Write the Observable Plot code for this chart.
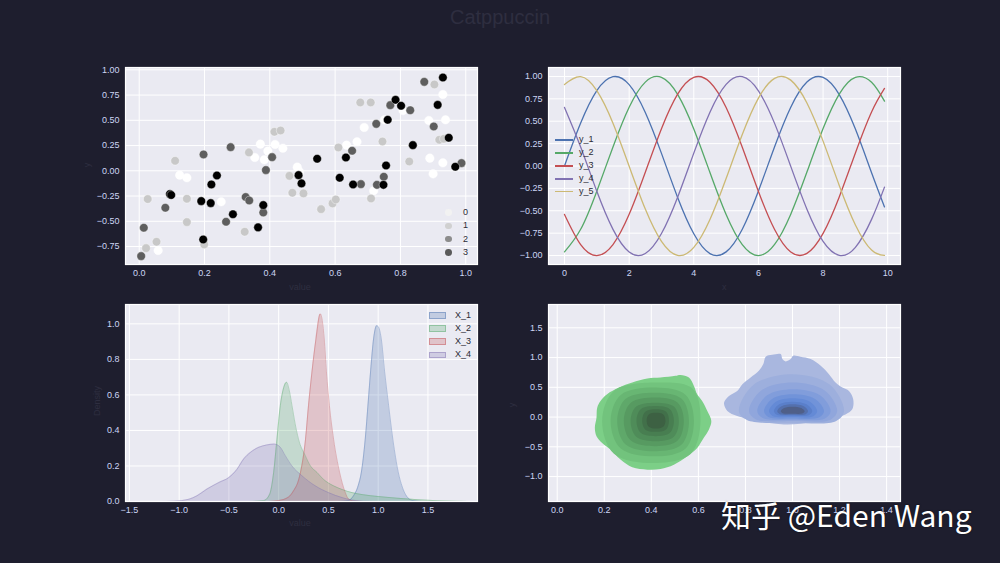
<!DOCTYPE html>
<html><head><meta charset="utf-8">
<script src="https://cdn.jsdelivr.net/npm/d3@7"></script>
<script src="https://cdn.jsdelivr.net/npm/@observablehq/plot@0.6"></script>
<style>
html,body{margin:0;padding:0;background:#1e1e2e;}
#root{position:relative;width:1000px;height:563px;overflow:hidden;background:#1e1e2e;font-family:"Liberation Sans",Arial,sans-serif;}
</style></head><body><div id="root"></div>
<script>
// ---------- DATA ----------
// Scatter (top-left): groups 0..3
const scatterGroups = ["0", "1", "2", "3"];
const scatterColors = ["#ffffff", "#c8c8c8", "#5e5e5e", "#000000"];
const scatterLegendColors = ["#f2f2f2", "#d0d0d0", "#8c8c8c", "#5a5a5a"];
const scatterG0 = [[0.058,-0.789],[0.124,-0.043],[0.146,-0.069],[0.251,-0.307],[0.371,0.264],[0.354,0.132],[0.383,0.109],[0.394,0.195],[0.416,0.261],[0.44,0.224],[0.484,0.036],[0.491,-0.01],[0.635,0.254],[0.667,0.287],[0.689,0.429],[0.718,-0.198],[0.751,0.505],[0.808,0.597],[0.887,0.498],[0.89,0.125],[0.9,-0.03],[0.93,0.079],[0.93,0.756],[0.938,0.505]];
const scatterG1 = [[0.021,-0.766],[0.026,-0.28],[0.053,-0.703],[0.11,0.099],[0.146,-0.277],[0.146,-0.508],[0.199,-0.729],[0.323,-0.604],[0.336,0.182],[0.414,0.386],[0.433,0.399],[0.46,-0.05],[0.469,-0.218],[0.503,-0.224],[0.557,-0.38],[0.592,-0.323],[0.602,-0.284],[0.61,0.231],[0.677,0.677],[0.709,0.677],[0.71,-0.274],[0.745,0.29],[0.827,0.092],[0.904,0.855],[0.919,0.307],[0.933,0.317]];
const scatterG2 = [[0.006,-0.845],[0.014,-0.564],[0.08,-0.366],[0.197,0.162],[0.266,-0.505],[0.28,0.234],[0.326,-0.26],[0.337,-0.294],[0.38,-0.413],[0.388,0.007],[0.407,0.135],[0.652,0.198],[0.679,-0.132],[0.726,0.465],[0.728,-0.139],[0.749,-0.059],[0.769,0.65],[0.83,0.60],[0.873,0.881],[0.902,0.439],[0.987,0.076]];
const scatterG3 = [[0.094,-0.231],[0.098,-0.24],[0.19,-0.30],[0.196,-0.68],[0.219,-0.32],[0.221,-0.135],[0.238,-0.046],[0.287,-0.43],[0.364,-0.56],[0.38,-0.34],[0.488,-0.043],[0.497,-0.125],[0.545,0.119],[0.614,-0.069],[0.633,0.132],[0.655,-0.135],[0.748,-0.139],[0.756,0.053],[0.785,0.703],[0.802,0.644],[0.838,0.254],[0.914,0.653],[0.93,0.924],[0.948,0.327],[0.968,0.04],[0.761,0.505]];

// Lines (top-right)
const lineNames = ["y_1", "y_2", "y_3", "y_4", "y_5"];
const lineColors = ["#4c72b0", "#55a868", "#c44e52", "#8172b2", "#ccb974"];
const lineX = [0,0.5,1,1.5,2,2.5,3,3.5,4,4.5,5,5.5,6,6.5,7,7.5,8,8.5,9,9.5,9.9];
const lineY1 = [0,0.479,0.841,0.997,0.909,0.598,0.141,-0.351,-0.757,-0.978,-0.959,-0.706,-0.279,0.215,0.657,0.938,0.989,0.798,0.412,-0.075,-0.457];
const lineY2 = [-0.959,-0.707,-0.281,0.213,0.656,0.937,0.990,0.800,0.414,-0.073,-0.542,-0.879,-1.000,-0.876,-0.538,-0.068,0.418,0.803,0.990,0.935,0.724];
const lineY3 = [-0.541,-0.878,-1.000,-0.877,-0.540,-0.070,0.417,0.802,0.990,0.936,0.653,0.210,-0.284,-0.709,-0.960,-0.976,-0.753,-0.346,0.146,0.603,0.866];
const lineY4 = [0.654,0.212,-0.283,-0.708,-0.960,-0.977,-0.754,-0.348,0.144,0.601,0.911,0.997,0.839,0.476,-0.004,-0.482,-0.843,-0.998,-0.908,-0.596,-0.236];
const lineY5 = [0.910,0.997,0.841,0.478,-0.002,-0.481,-0.842,-0.998,-0.909,-0.597,-0.140,0.352,0.758,0.978,0.959,0.704,0.278,-0.217,-0.658,-0.939,-0.999];

// KDE (bottom-left)
const kdeNames = ["X_1", "X_2", "X_3", "X_4"];
const kdeColors = ["#4c72b0", "#55a868", "#c44e52", "#8172b2"];
const kdeX1 = [[0.6,0],[0.7,0.005],[0.75,0.03],[0.8,0.09],[0.83,0.16],[0.87,0.35],[0.9,0.56],[0.925,0.74],[0.955,0.92],[0.985,0.99],[1.0,0.985],[1.03,0.92],[1.065,0.73],[1.105,0.54],[1.15,0.34],[1.2,0.17],[1.25,0.07],[1.3,0.02],[1.35,0.005],[1.45,0]];
const kdeX2 = [[-0.3,0],[-0.15,0.005],[-0.1,0.03],[-0.084,0.05],[-0.05,0.164],[-0.017,0.35],[0.017,0.54],[0.047,0.633],[0.08,0.671],[0.105,0.63],[0.134,0.54],[0.165,0.44],[0.2,0.35],[0.268,0.258],[0.32,0.2],[0.385,0.164],[0.45,0.125],[0.552,0.088],[0.65,0.065],[0.736,0.05],[0.85,0.038],[1.0,0.028],[1.2,0.018],[1.4,0.01],[1.6,0.004],[1.8,0.001],[1.9,0]];
const kdeX3 = [[-0.1,0],[0.0,0.005],[0.1,0.025],[0.15,0.06],[0.2,0.12],[0.22,0.165],[0.27,0.35],[0.3,0.54],[0.335,0.73],[0.375,0.915],[0.418,1.056],[0.458,0.915],[0.48,0.73],[0.51,0.54],[0.552,0.35],[0.612,0.165],[0.67,0.05],[0.7,0.015],[0.75,0.003],[0.85,0]];
const kdeX4 = [[-1.2,0],[-1.05,0.002],[-0.9,0.013],[-0.82,0.032],[-0.72,0.07],[-0.6,0.107],[-0.5,0.135],[-0.42,0.18],[-0.35,0.24],[-0.284,0.276],[-0.2,0.305],[-0.12,0.318],[-0.044,0.323],[0.017,0.305],[0.067,0.258],[0.134,0.2],[0.234,0.145],[0.368,0.088],[0.5,0.05],[0.636,0.022],[0.736,0.008],[0.85,0.001],[0.95,0]];

// 2D KDE contours (bottom-right), outer level first
const greenColors = ["#7ccf87","#72c37d","#68b673","#5fa86a","#579a61","#4f8c59","#487e51","#42704a","#3d6143"];
const greenLevels = [
  [[0.319,0.58],[0.383,0.648],[0.439,0.664],[0.503,0.693],[0.524,0.709],[0.56,0.664],[0.581,0.524],[0.595,0.383],[0.616,0.27],[0.638,0.101],[0.655,-0.068],[0.645,-0.208],[0.623,-0.349],[0.595,-0.518],[0.553,-0.659],[0.496,-0.8],[0.439,-0.873],[0.383,-0.884],[0.319,-0.845],[0.269,-0.715],[0.227,-0.546],[0.191,-0.434],[0.167,-0.321],[0.16,-0.18],[0.167,-0.011],[0.17,0.158],[0.184,0.27],[0.212,0.383],[0.262,0.495]],
  [[0.42,0.58],[0.575,0.48],[0.609,-0.06],[0.567,-0.615],[0.42,-0.771],[0.241,-0.615],[0.191,-0.06],[0.241,0.439]],
  [[0.42,0.495],[0.546,0.373],[0.581,-0.06],[0.546,-0.527],[0.42,-0.659],[0.27,-0.527],[0.227,-0.06],[0.27,0.373]],
  [[0.42,0.41],[0.529,0.307],[0.56,-0.06],[0.529,-0.461],[0.42,-0.574],[0.291,-0.461],[0.255,-0.06],[0.291,0.307]],
  [[0.42,0.327],[0.512,0.242],[0.538,-0.06],[0.512,-0.395],[0.42,-0.49],[0.313,-0.395],[0.283,-0.06],[0.313,0.242]],
  [[0.42,0.242],[0.496,0.176],[0.517,-0.06],[0.496,-0.329],[0.42,-0.405],[0.336,-0.329],[0.312,-0.06],[0.336,0.176]],
  [[0.42,0.186],[0.479,0.132],[0.496,-0.06],[0.479,-0.264],[0.42,-0.321],[0.355,-0.264],[0.337,-0.06],[0.355,0.132]],
  [[0.42,0.13],[0.463,0.088],[0.475,-0.06],[0.463,-0.207],[0.42,-0.248],[0.374,-0.207],[0.361,-0.06],[0.374,0.088]],
  [[0.42,0.073],[0.451,0.044],[0.46,-0.06],[0.451,-0.162],[0.42,-0.191],[0.389,-0.162],[0.38,-0.06],[0.389,0.044]]
];
const blueColors = ["#a9b7df","#9dafdd","#90a6dc","#819ddb","#7193d9","#648ad6","#5a7fca","#5470ad","#4f5f88"];
const blueLevels = [
  [[0.709,0.242],[0.73,0.355],[0.765,0.439],[0.787,0.552],[0.822,0.664],[0.857,0.777],[0.876,0.89],[0.886,1.014],[0.914,1.047],[0.95,1.059],[0.957,0.974],[0.971,0.935],[0.992,0.974],[1.003,1.03],[1.034,1.014],[1.077,0.974],[1.12,0.861],[1.155,0.721],[1.183,0.58],[1.212,0.495],[1.24,0.439],[1.258,0.298],[1.254,0.13],[1.225,0.045],[1.176,-0.011],[1.105,-0.068],[1.035,-0.113],[0.964,-0.124],[0.893,-0.096],[0.822,-0.039],[0.765,0.017],[0.723,0.101]],
  [[1.0,0.721],[1.158,0.547],[1.219,0.1],[1.186,-0.067],[1.0,-0.096],[0.806,-0.05],[0.772,0.1],[0.836,0.547]],
  [[1.0,0.58],[1.137,0.446],[1.19,0.1],[1.162,-0.043],[1.0,-0.068],[0.843,-0.035],[0.815,0.1],[0.867,0.446]],
  [[1.0,0.468],[1.117,0.365],[1.162,0.1],[1.138,-0.023],[1.0,-0.045],[0.873,-0.015],[0.85,0.1],[0.892,0.365]],
  [[1.0,0.383],[1.096,0.304],[1.134,0.1],[1.114,-0.005],[1.0,-0.023],[0.897,0.0],[0.879,0.1],[0.913,0.304]],
  [[1.0,0.315],[1.076,0.255],[1.105,0.1],[1.089,0.015],[1.0,0.0],[0.915,0.02],[0.9,0.1],[0.928,0.255]],
  [[1.0,0.259],[1.06,0.214],[1.084,0.1],[1.071,0.035],[1.0,0.023],[0.933,0.038],[0.921,0.1],[0.943,0.214]],
  [[1.0,0.214],[1.048,0.182],[1.066,0.1],[1.056,0.048],[1.0,0.039],[0.945,0.05],[0.935,0.1],[0.953,0.182]],
  [[1.0,0.175],[1.037,0.154],[1.052,0.1],[1.044,0.063],[1.0,0.056],[0.958,0.065],[0.95,0.1],[0.964,0.154]]
];

// Ticks
const p1XTicks = [0, 0.2, 0.4, 0.6, 0.8, 1.0];
const p1YTicks = [-0.75, -0.5, -0.25, 0, 0.25, 0.5, 0.75, 1.0];
const p2XTicks = [0, 2, 4, 6, 8, 10];
const p2YTicks = [-1, -0.75, -0.5, -0.25, 0, 0.25, 0.5, 0.75, 1.0];
const p3XTicks = [-1.5, -1, -0.5, 0, 0.5, 1, 1.5];
const p3YTicks = [0, 0.2, 0.4, 0.6, 0.8, 1.0];
const p4XTicks = [0, 0.2, 0.4, 0.6, 0.8, 1.0, 1.2, 1.4];
const p4YTicks = [-1, -0.5, 0, 0.5, 1, 1.5];

// ---------- RENDER ----------
const root = document.getElementById("root");
const FONT = '"Liberation Sans", Arial, sans-serif';
const TICK = "#cdd6f4";
const PANEL = "#eaeaf2";
const FAINT = "#2e2e40";

function base(extra) {
  return Object.assign({
    width: 420, height: 240, marginLeft: 50, marginRight: 18, marginTop: 10, marginBottom: 33,
    style: {background: "transparent", color: TICK, fontFamily: FONT, fontSize: "9px", overflow: "visible"}
  }, extra);
}
function under(xt, yt) {
  return [
    Plot.frame({fill: PANEL, stroke: "none"}),
    Plot.gridX(xt, {stroke: "white", strokeOpacity: 1, strokeWidth: 1}),
    Plot.gridY(yt, {stroke: "white", strokeOpacity: 1, strokeWidth: 1})
  ];
}
function over(xt, yt, xf, yf) {
  return [
    Plot.frame({stroke: "white", strokeWidth: 1.2}),
    Plot.axisX(xt, {tickSize: 0, tickPadding: 5, tickFormat: xf, label: null}),
    Plot.axisY(yt, {tickSize: 0, tickPadding: 6, tickFormat: yf, label: null})
  ];
}
function place(svg, left, top) {
  svg.style.position = "absolute"; svg.style.left = left + "px"; svg.style.top = top + "px";
  root.appendChild(svg);
}
function txt(s, left, top, css) {
  const d = document.createElement("div");
  d.textContent = s;
  d.style.cssText = "position:absolute;white-space:nowrap;left:" + left + "px;top:" + top + "px;" + (css || "");
  root.appendChild(d);
  return d;
}
function box(left, top, w, h, css) {
  const d = document.createElement("div");
  d.style.cssText = "position:absolute;left:" + left + "px;top:" + top + "px;width:" + w + "px;height:" + h + "px;" + (css || "");
  root.appendChild(d);
  return d;
}

// Title
txt("Catppuccin", 0, 7, "width:1000px;text-align:center;font-size:20px;line-height:20px;color:" + FAINT + ";font-family:" + FONT);

// Plot 1: scatter
const scatterRows = [];
[scatterG0, scatterG1, scatterG2, scatterG3].forEach((g, i) => g.forEach(p => scatterRows.push({x: p[0], y: p[1], g: scatterGroups[i]})));
place(Plot.plot(base({
  x: {domain: [-0.042, 1.036]},
  y: {domain: [-0.928, 1.023]},
  color: {domain: scatterGroups, range: scatterColors},
  marks: [
    ...under(p1XTicks, p1YTicks),
    Plot.dot(scatterRows, {x: "x", y: "y", fill: "g", r: 4.3, stroke: "white", strokeWidth: 0.4}),
    ...over(p1XTicks, p1YTicks, d3.format(".1f"), d3.format(".2f"))
  ]
})), 75, 57);
scatterGroups.forEach((g, i) => {
  const cy = 212.7 + i * 13.2;
  box(448.3 - 3.4, cy - 3.4, 6.8, 6.8, "border-radius:50%;background:" + scatterLegendColors[i]);
  txt(g, 463, cy - 5.5, "font-size:9px;line-height:11px;color:#2a2a35;font-family:" + FONT);
});

// Plot 2: lines
const lineRows = [];
[lineY1, lineY2, lineY3, lineY4, lineY5].forEach((ys, i) => ys.forEach((y, j) => lineRows.push({x: lineX[j], y, s: lineNames[i]})));
place(Plot.plot(base({
  x: {domain: [-0.495, 10.395]},
  y: {domain: [-1.1, 1.1]},
  color: {domain: lineNames, range: lineColors},
  marks: [
    ...under(p2XTicks, p2YTicks),
    Plot.line(lineRows, {x: "x", y: "y", z: "s", stroke: "s", strokeWidth: 1.3, curve: "natural"}),
    ...over(p2XTicks, p2YTicks, d3.format("d"), d3.format(".2f"))
  ]
})), 498, 57);
lineNames.forEach((n, i) => {
  const cy = 140 + i * 12.95;
  box(555, cy - 0.7, 18, 1.4, "background:" + lineColors[i]);
  txt(n, 579, cy - 6, "font-size:9px;line-height:11px;color:#2a2a35;font-family:" + FONT);
});

// Plot 3: KDE
const kdeRows = [];
[kdeX1, kdeX2, kdeX3, kdeX4].forEach((g, i) => g.forEach(p => kdeRows.push({x: p[0], y: p[1], s: kdeNames[i]})));
place(Plot.plot(base({
  x: {domain: [-1.539, 1.998]},
  y: {domain: [0, 1.109]},
  color: {domain: kdeNames, range: kdeColors},
  marks: [
    ...under(p3XTicks, p3YTicks),
    Plot.areaY(kdeRows, {x: "x", y1: 0, y2: "y", z: "s", fill: "s", fillOpacity: 0.25, curve: "monotone-x"}),
    Plot.line(kdeRows, {x: "x", y: "y", z: "s", stroke: "s", strokeOpacity: 0.45, strokeWidth: 0.8, curve: "monotone-x"}),
    ...over(p3XTicks, p3YTicks, d3.format(".1f"), d3.format(".1f"))
  ]
})), 75, 294);
kdeNames.forEach((n, i) => {
  const cy = 315.7 + i * 13.1;
  const c = d3.color(kdeColors[i]);
  box(429, cy - 3.5, 17, 6.5, "box-sizing:border-box;background:rgba(" + c.r + "," + c.g + "," + c.b + ",0.25);border:0.8px solid rgba(" + c.r + "," + c.g + "," + c.b + ",0.45)");
  txt(n, 455, cy - 6, "font-size:9px;line-height:11px;color:#2a2a35;font-family:" + FONT);
});

// Plot 4: 2D KDE filled contours
const contourMarks = [];
greenLevels.forEach((poly, i) => contourMarks.push(Plot.line(poly, {x: d => d[0], y: d => d[1], fill: greenColors[i], stroke: "none", curve: "catmull-rom-closed"})));
blueLevels.forEach((poly, i) => contourMarks.push(Plot.line(poly, {x: d => d[0], y: d => d[1], fill: blueColors[i], stroke: "none", curve: "catmull-rom-closed"})));
place(Plot.plot(base({
  x: {domain: [-0.037, 1.459]},
  y: {domain: [-1.419, 1.892]},
  marks: [
    ...under(p4XTicks, p4YTicks),
    ...contourMarks,
    ...over(p4XTicks, p4YTicks, d3.format(".1f"), d3.format(".1f"))
  ]
})), 498, 294);

// Faint axis labels
const lab = "font-size:9px;line-height:10px;color:" + FAINT + ";font-family:" + FONT;
txt("value", 0, 282, lab + ";width:600px;text-align:center;left:0px").style.left = "0px";
txt("y", 85, 160, lab + ";transform:rotate(-90deg)");
txt("x", 722, 282, lab);
txt("value", 0, 518, lab + ";width:600px;text-align:center");
txt("Density", 82, 396, lab + ";transform:rotate(-90deg)");
txt("y", 510, 400, lab + ";transform:rotate(-90deg)");

// Watermark
txt("知乎 @Eden Wang", 721, 499, "font-size:30px;line-height:30px;color:#ffffff;font-family:'Noto Sans CJK SC','Noto Sans',sans-serif;text-shadow:0 0 2px rgba(0,0,0,0.6)");
</script></body></html>
